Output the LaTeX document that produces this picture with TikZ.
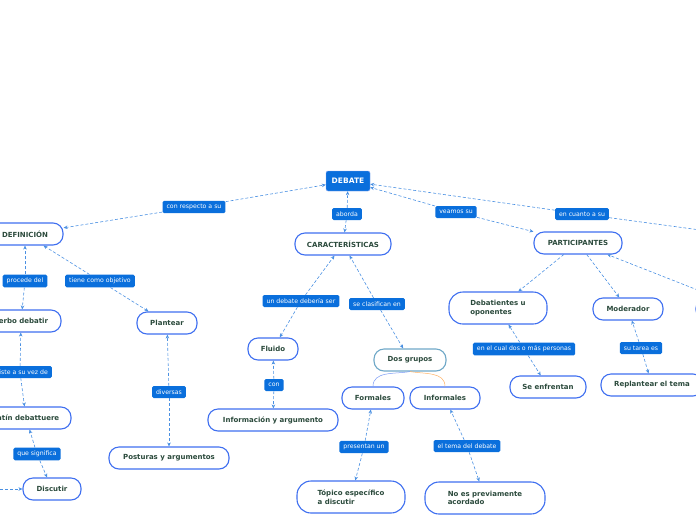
\documentclass[tikz,border=0pt]{standalone}
\usepackage{fontspec}
\setmainfont{DejaVu Sans}
\usetikzlibrary{arrows.meta}
\definecolor{tx}{HTML}{2B4A3C}
\definecolor{bd}{HTML}{3F6FF0}
\definecolor{lb}{HTML}{0A6FDC}
\definecolor{ln}{HTML}{4A90E2}
\definecolor{tl}{HTML}{6FA8C8}
\begin{document}
\begin{tikzpicture}[x=1pt,y=-1pt,
 topic/.style={draw=bd,line width=1.1pt,rounded corners=10pt,fill=white,text=tx,font=\fontsize{7}{8.5}\selectfont\bfseries,minimum height=22pt,inner xsep=9pt,align=left},
 lab/.style={fill=lb,text=white,rounded corners=1.5pt,font=\fontsize{6.2}{7}\selectfont,inner xsep=4pt,minimum height=12pt},
 con/.style={draw=ln,dashed,line width=0.6pt,dash pattern=on 3pt off 2pt},
 tip/.style={con,-{Stealth[length=4pt,width=3.5pt]}}]
\useasboundingbox (0,0) rectangle (696,520);
\node[fill=lb,draw=bd!60,rounded corners=2pt,text=white,font=\fontsize{7.5}{9}\selectfont\bfseries,minimum width=44pt,minimum height=20pt] (deb) at (348,181) {DEBATE};
\node[topic,minimum width=76pt] (def) at (25,234) {DEFINICIÓN};
\node[topic,minimum width=80pt] (ver) at (21,321) {Verbo debatir};
\node[topic,minimum width=90pt] (lat) at (26,418) {Latín debattuere};
\node[topic,minimum width=96pt] (car) at (343,244) {CARACTERÍSTICAS};
\node[topic,minimum width=88pt] (par) at (578,243) {PARTICIPANTES};
\node[topic,minimum width=58pt] (dis) at (52,489) {Discutir};
\node[topic,minimum width=60pt] (pla) at (167,323) {Plantear};
\node[topic,minimum width=120pt] (pos) at (169,458) {Posturas y argumentos};
\node[topic,minimum width=50pt] (flu) at (273,349) {Fluido};
\node[topic,minimum width=130pt] (inf) at (273,420) {Información y argumento};
\node[topic,draw=tl,minimum width=72pt] (dos) at (410,360) {Dos grupos};
\node[topic,minimum width=62pt] (for) at (373,398) {Formales};
\node[topic,minimum width=70pt] (inm) at (445,398) {Informales};
\node[topic,minimum width=108pt,minimum height=32pt,rounded corners=14pt] (top) at (351,497) {Tópico específico\\a discutir};
\node[topic,minimum width=120pt,minimum height=32pt,rounded corners=14pt] (noe) at (485,498) {No es previamente\\acordado};
\node[topic,minimum width=98pt,minimum height=32pt,rounded corners=14pt] (dbt) at (498,308) {Debatientes u\\oponentes};
\node[topic,minimum width=76pt] (sen) at (548,387) {Se enfrentan};
\node[topic,minimum width=70pt] (mod) at (628,309) {Moderador};
\node[topic,minimum width=102pt] (rep) at (652,385) {Replantear el tema};
\node[topic,minimum width=100pt] (oth) at (746,309) {};
\coordinate (far) at (730,234);
\coordinate (lft) at (-5,489);
\node[lab] (l1) at (194,207) {con respecto a su};
\node[lab] (l2) at (347,214) {aborda};
\node[lab] (l3) at (456,212) {veamos su};
\node[lab] (l4) at (582,214) {en cuanto a su};
\node[lab] (l5) at (25,281) {procede del};
\node[lab] (l6) at (100,281) {tiene como objetivo};
\node[lab] (l7) at (20,372) {existe a su vez de};
\node[lab] (l8) at (37,454) {que significa};
\node[lab] (l9) at (169,392) {diversas};
\node[lab] (l10) at (301,301) {un debate debería ser};
\node[lab] (l11) at (377,304) {se clasifican en};
\node[lab] (l12) at (274,385) {con};
\node[lab] (l13) at (364,447) {presentan un};
\node[lab] (l14) at (467,446) {el tema del debate};
\node[lab] (l15) at (524,349) {en el cual dos o más personas};
\node[lab] (l16) at (641,348) {su tarea es};
\foreach \a/\l/\b in {deb/l1/def,deb/l2/car,deb/l3/par,deb/l4/far,def/l5/ver,def/l6/pla,ver/l7/lat,lat/l8/dis,pla/l9/pos,car/l10/flu,car/l11/dos,flu/l12/inf,for/l13/top,inm/l14/noe,dbt/l15/sen,mod/l16/rep}{
 \draw[tip] (\l) -- (\a); \draw[tip] (\l) -- (\b);}
\draw[tip] (par) -- (dbt);
\draw[tip] (par) -- (mod);
\draw[tip] (oth) -- (par);
\draw[tip] (lft) -- (dis);
\draw[bd!70,line width=0.5pt] (dos.south) to[out=190,in=90] (for.north);
\draw[orange!60,line width=0.5pt] (dos.south) to[out=-10,in=90] (inm.north);
\end{tikzpicture}
\end{document}
